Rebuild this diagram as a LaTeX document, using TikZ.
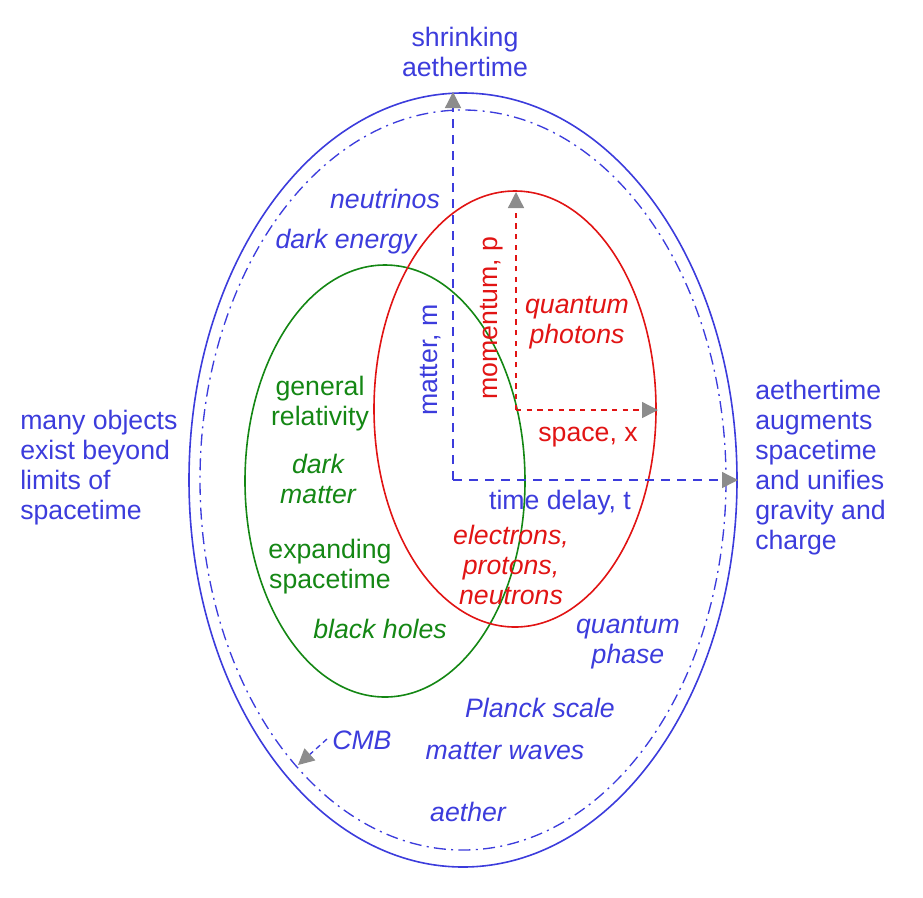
\documentclass[tikz,border=0pt]{standalone}
\usepackage{fontspec}
\setmainfont{Liberation Sans}
\usetikzlibrary{arrows.meta}
\definecolor{bl}{RGB}{60,60,220}
\definecolor{rd}{RGB}{225,20,20}
\definecolor{gr}{RGB}{20,135,20}
\definecolor{ar}{RGB}{140,140,140}
\tikzset{
 lbl/.style={font=\fontsize{20}{22.5}\selectfont, align=center, inner sep=0},
 it/.style={font=\fontsize{20}{22.5}\selectfont\itshape},
 ax/.style={dashed, dash pattern=on 7pt off 5pt, line width=1pt, -{Triangle[length=12pt,width=12pt,fill=ar,color=ar]}},
}
\begin{document}
\begin{tikzpicture}[x=0.75pt,y=-0.75pt]
\useasboundingbox (0,0) rectangle (923,897);
\draw[bl, line width=1.2pt] (463,480) ellipse [x radius=274, y radius=387];
\draw[bl, line width=1pt, dash pattern=on 9pt off 4pt on 1.5pt off 4pt] (463,480) ellipse [x radius=263, y radius=370];
\draw[gr, line width=1.2pt] (385,481) ellipse [x radius=140, y radius=216];
\draw[rd, line width=1.2pt] (515,409) ellipse [x radius=141, y radius=218];
\coordinate (o) at (453,480);
\coordinate (up) at (453,92);
\coordinate (rt) at (738,480);
\draw[ax, bl] (o) -- (up);
\draw[ax, bl] (o) -- (rt);
\coordinate (o2) at (516,410);
\coordinate (up2) at (516,192);
\coordinate (rt2) at (658,410);
\draw[ax, rd, dash pattern=on 4pt off 4pt] (o2) -- (up2);
\draw[ax, rd, dash pattern=on 4pt off 4pt] (o2) -- (rt2);
\coordinate (c1) at (327,739);
\coordinate (c2) at (298,765);
\draw[ax, bl, dash pattern=on 4pt off 3pt] (c1) -- (c2);
\node[lbl, bl] (t1) at (465,52) {shrinking\\aethertime};
\node[lbl, bl, align=left, anchor=west] (t2) at (20,468) {many objects\\exist beyond\\limits of\\spacetime};
\node[lbl, bl, align=left, anchor=west] (t3) at (755,468) {aethertime\\augments\\spacetime\\and unifies\\gravity and\\charge};
\node[lbl, bl, it] (n1) at (385,199) {neutrinos};
\node[lbl, bl, it] (n2) at (346,242) {dark energy};
\node[lbl, bl, rotate=90] (m) at (431,360) {matter, m};
\node[lbl, rd, rotate=90] (p) at (492,318) {momentum, p};
\node[lbl, rd, it] (q) at (577,323) {quantum\\photons};
\node[lbl, rd] (sx) at (588,437) {space, x};
\node[lbl, bl] (td) at (560,503) {time delay, t};
\node[lbl, rd, it] (e) at (511,565) {electrons,\\protons,\\neutrons};
\node[lbl, gr] (g) at (320,404) {general\\relativity};
\node[lbl, gr, it] (dm) at (318,479) {dark\\matter};
\node[lbl, gr] (es) at (330,567) {expanding\\spacetime};
\node[lbl, gr, it] (bh) at (380,629) {black holes};
\node[lbl, bl, it] (qp) at (628,643) {quantum\\phase};
\node[lbl, bl, it] (ps) at (540,708) {Planck scale};
\node[lbl, bl, it] (mw) at (505,751) {matter waves};
\node[lbl, bl, it, anchor=west] (cmb) at (332,740) {CMB};
\node[lbl, bl, it] (ae) at (468,812) {aether};
\end{tikzpicture}
\end{document}
